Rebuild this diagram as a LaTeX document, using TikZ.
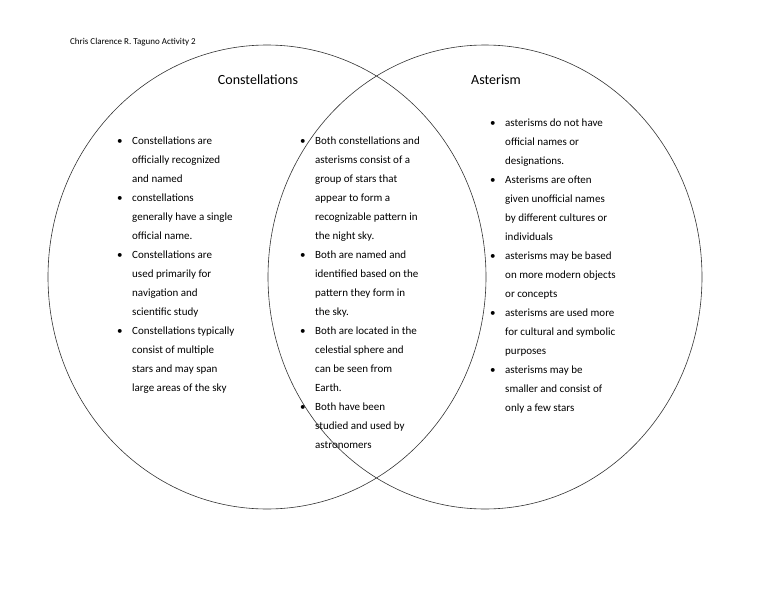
\documentclass[tikz,border=0pt]{standalone}
\usepackage{fontspec}
\setmainfont{Carlito}
\newcommand{\bl}{\makebox[15pt][l]{\textbullet}}
\newcommand{\ind}{\hspace*{15pt}}
\begin{document}
\begin{tikzpicture}[x=1pt,y=-1pt,
  col/.style={anchor=north west,inner sep=0pt,align=left,font=\fontsize{11}{19}\selectfont},
  ttl/.style={font=\fontsize{14}{16}\selectfont},
  ring/.style={draw=black!80,line width=0.6pt}]
\useasboundingbox (0,0) rectangle (768,594);
\draw[ring] (267,277) ellipse [x radius=219,y radius=232];
\draw[ring] (485,277) ellipse [x radius=217,y radius=232];
\node[anchor=west,inner sep=0pt,font=\fontsize{9}{10}\selectfont] (hdr) at (70,42) {Chris Clarence R. Taguno Activity 2};
\node[ttl] (t1) at (258,80) {Constellations};
\node[ttl] (t2) at (496,80) {Asterism};
\node[col] (left) at (117,137) {\bl Constellations are\\ \ind officially recognized\\ \ind and named\\
\bl constellations\\ \ind generally have a single\\ \ind official name.\\
\bl Constellations are\\ \ind used primarily for\\ \ind navigation and\\ \ind scientific study\\
\bl Constellations typically\\ \ind consist of multiple\\ \ind stars and may span\\ \ind large areas of the sky};
\node[col] (mid) at (300,137) {\bl Both constellations and\\ \ind asterisms consist of a\\ \ind group of stars that\\ \ind appear to form a\\ \ind recognizable pattern in\\ \ind the night sky.\\
\bl Both are named and\\ \ind identified based on the\\ \ind pattern they form in\\ \ind the sky.\\
\bl Both are located in the\\ \ind celestial sphere and\\ \ind can be seen from\\ \ind Earth.\\
\bl Both have been\\ \ind studied and used by\\ \ind astronomers};
\node[col] (right) at (490,119) {\bl asterisms do not have\\ \ind official names or\\ \ind designations.\\
\bl Asterisms are often\\ \ind given unofficial names\\ \ind by different cultures or\\ \ind individuals\\
\bl asterisms may be based\\ \ind on more modern objects\\ \ind or concepts\\
\bl asterisms are used more\\ \ind for cultural and symbolic\\ \ind purposes\\
\bl asterisms may be\\ \ind smaller and consist of\\ \ind only a few stars};
\end{tikzpicture}
\end{document}
